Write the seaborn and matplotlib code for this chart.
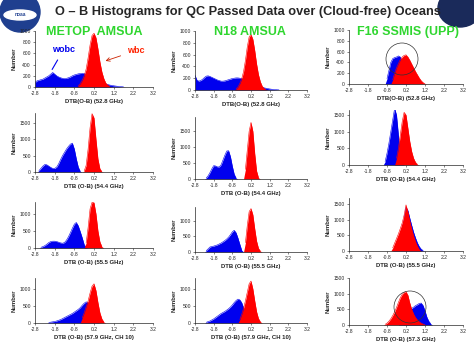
import numpy as np
import seaborn as sns
import matplotlib.pyplot as plt
from matplotlib.patches import Ellipse

# common bin centres of the O-B histograms
x_grid = np.round(np.arange(-2.8, 3.2001, 0.1), 1)

# each series: (first bin centre, counts per 0.1 K bin)
metop_528_wobc = (-2.8, [80, 110, 120, 130, 140, 160, 180, 200, 230, 260, 230, 200, 180, 165, 155, 150,
                         155, 165, 180, 200, 215, 225, 235, 240, 245, 240, 230, 215, 200, 180, 160, 140,
                         120, 100, 85, 70, 55, 45, 35, 28, 22, 17, 12, 8, 5, 3, 0])
metop_528_wbc = (-0.7, [0, 20, 60, 120, 200, 320, 520, 750, 920, 960, 880, 680, 450, 270, 150, 70, 30, 10, 0])
n18_528_wobc = (-2.8, [250, 170, 150, 160, 180, 210, 235, 240, 230, 215, 200, 185, 170, 160, 150, 150,
                       155, 165, 175, 185, 195, 200, 205, 205, 200, 195, 185, 170, 155, 140, 125, 110,
                       95, 80, 68, 56, 46, 37, 30, 24, 18, 13, 9, 6, 4, 2, 0])
n18_528_wbc = (-0.7, [0, 15, 50, 110, 190, 310, 500, 730, 900, 940, 860, 670, 440, 260, 140, 65, 25, 8, 0])
f16_528_wobc = (-0.9, [0, 100, 250, 400, 470, 490, 500, 520, 500, 420, 250, 100, 20, 0])
f16_528_wbc = (-0.6, [0, 80, 200, 300, 380, 450, 500, 530, 540, 500, 440, 370, 300, 230, 170, 110, 60, 25, 5, 0])

metop_544_wobc = (-2.7, [0, 40, 110, 180, 230, 220, 180, 140, 110, 110, 150, 250, 380, 500, 600, 700,
                         780, 850, 880, 700, 400, 150, 20, 0])
metop_544_wbc = (-0.4, [0, 30, 200, 700, 1350, 1780, 1650, 1000, 400, 100, 10, 0])
n18_544_wobc = (-2.3, [0, 30, 100, 200, 320, 420, 410, 380, 380, 450, 600, 750, 880, 890, 700, 400, 150, 30, 0])
n18_544_wbc = (-0.2, [0, 300, 900, 1500, 1780, 1500, 800, 250, 40, 0])
f16_544_wobc = (-1.0, [0, 100, 350, 650, 1000, 1350, 1700, 1500, 900, 300, 50, 0])
f16_544_wbc = (-0.4, [0, 200, 500, 900, 1300, 1580, 1500, 1100, 700, 400, 200, 80, 20, 0])

metop_555_wobc = (-2.6, [0, 20, 40, 70, 110, 160, 190, 200, 200, 190, 170, 150, 140, 160, 230, 330,
                         450, 580, 700, 750, 650, 480, 300, 100, 10, 0])
metop_555_wbc = (-0.3, [0, 150, 600, 1150, 1340, 1330, 1000, 500, 180, 40, 0])
n18_555_wobc = (-2.3, [0, 40, 100, 160, 180, 190, 210, 230, 260, 290, 330, 370, 420, 480, 560, 650,
                       700, 620, 450, 250, 60, 0])
n18_555_wbc = (-0.2, [0, 300, 850, 1300, 1400, 1200, 750, 350, 120, 30, 0])
f16_555_wobc = (-0.5, [0, 100, 250, 400, 550, 750, 1000, 1400, 1300, 1050, 820, 600, 420, 260, 140, 60, 15, 0])
f16_555_wbc = (-0.6, [0, 100, 250, 400, 550, 720, 900, 1150, 1480, 1250, 950, 700, 480, 300, 150, 50, 0])

metop_579_wobc = (-2.2, [0, 15, 25, 35, 45, 60, 80, 100, 130, 160, 190, 220, 250, 280, 320, 360,
                         400, 450, 520, 580, 620, 600, 500, 350, 200, 80, 20, 0])
metop_579_wbc = (-0.5, [0, 150, 300, 480, 650, 880, 1080, 1150, 950, 600, 300, 120, 30, 0])
n18_579_wobc = (-2.3, [0, 20, 40, 60, 90, 120, 160, 200, 240, 280, 310, 340, 380, 420, 470, 530,
                       600, 660, 700, 680, 600, 450, 280, 130, 40, 0])
n18_579_wbc = (-0.5, [0, 100, 250, 430, 650, 900, 1150, 1230, 1000, 650, 330, 130, 40, 0])
f16_573_wobc = (-0.2, [0, 50, 120, 200, 300, 400, 480, 530, 570, 620, 650, 690, 700, 620, 450, 250, 120, 40, 0])
f16_573_wbc = (-1.0, [0, 20, 60, 120, 200, 300, 420, 560, 720, 870, 980, 1040, 1060, 950, 700, 500,
                      350, 240, 160, 100, 60, 30, 10, 0])

col_titles = ["METOP  AMSUA", "N18 AMSUA", "F16 SSMIS (UPP)"]
x_ticks = [-2.8, -1.8, -0.8, 0.2, 1.2, 2.2, 3.2]
x_labels = [
    ["DTB(O-B) (52.8 GHz)", "DTB (O-B) (54.4 GHz)", "DTB (O-B) (55.5 GHz)", "DTB (O-B) (57.9 GHz, CH 10)"],
    ["DTB(O-B) (52.8 GHz)", "DTB (O-B) (54.4 GHz)", "DTB (O-B) (55.5 GHz)", "DTB (O-B) (57.9 GHz, CH 10)"],
    ["DTB(O-B) (52.8 GHz)", "DTB (O-B) (54.4 GHz)", "DTB (O-B) (55.5 GHz)", "DTB (O-B) (57.3 GHz)"],
]
panels = [
    [(metop_528_wobc, metop_528_wbc), (metop_544_wobc, metop_544_wbc),
     (metop_555_wobc, metop_555_wbc), (metop_579_wobc, metop_579_wbc)],
    [(n18_528_wobc, n18_528_wbc), (n18_544_wobc, n18_544_wbc),
     (n18_555_wobc, n18_555_wbc), (n18_579_wobc, n18_579_wbc)],
    [(f16_528_wobc, f16_528_wbc), (f16_544_wobc, f16_544_wbc),
     (f16_555_wobc, f16_555_wbc), (f16_573_wobc, f16_573_wbc)],
]
y_max = [[1000, 1800, 1350, 1320], [1000, 1950, 1450, 1320], [1000, 1650, 1700, 1500]]

# axes boxes in pixels: (left, right) per column, (top, bottom) per column/row
col_x = [(35, 153), (195, 307), (349, 463)]
row_y = [[(31, 87), (113, 172), (202, 248), (278, 323)],
         [(31, 90), (117, 179), (207, 252), (278, 323)],
         [(30, 84), (110, 165), (198, 251), (278, 325)]]
title_cx = [94, 250, 408]

W, H = 474, 355


def full(series):
    x0, vals = series
    y = np.zeros(len(x_grid))
    i0 = int(round((x0 + 2.8) * 10))
    n = min(len(vals), len(x_grid) - i0)
    y[i0:i0 + n] = vals[:n]
    return y


sns.set_style("ticks")
plt.rcParams['font.family'] = ['Liberation Sans', 'DejaVu Sans']
fig = plt.figure(figsize=(W / 100, H / 100), dpi=100)

axes = {}
for c in range(3):
    for r in range(4):
        l, rgt = col_x[c]
        t, b = row_y[c][r]
        ax = fig.add_axes([l / W, 1 - b / H, (rgt - l) / W, (b - t) / H])
        axes[(c, r)] = ax
        for k, (series, color) in enumerate(zip(panels[c][r], ["#0000ee", "#ff0000"])):
            y = full(series)
            ax.fill_between(x_grid, 0, y, color=color, linewidth=0, zorder=1 + 2 * k)
            # outline only where there are counts
            y_edge = np.where(y > 0, y, np.nan)
            sns.lineplot(x=x_grid, y=y_edge, ax=ax, color=color, linewidth=0.4, zorder=2 + 2 * k)
        ax.set_xlim(-2.8, 3.2)
        ax.set_ylim(0, y_max[c][r])
        ax.set_xticks(x_ticks)
        ax.set_xticklabels([f"{v:.1f}" for v in x_ticks])
        if r == 0:
            ax.set_yticks([0, 200, 400, 600, 800, 1000])
        else:
            ax.set_yticks([v for v in [0, 500, 1000, 1500] if v <= y_max[c][r]])
        ax.tick_params(labelsize=3.6, length=1.5, width=0.4, pad=1.5)
        for s in ["left", "bottom"]:
            ax.spines[s].set_linewidth(0.5)
            ax.spines[s].set_zorder(6)
        sns.despine(ax=ax)
        ax.set_xlabel(x_labels[c][r], fontsize=4.3, fontweight="bold", labelpad=2)
        ax.set_ylabel("Number", fontsize=4.3, fontweight="bold", labelpad=2)

fig.text(248 / W, 1 - 12 / H, "O \u2013 B Histograms for QC Passed Data over (Cloud-free) Oceans",
         ha="center", va="center", fontsize=9.2, fontweight="bold")
for c, title in enumerate(col_titles):
    fig.text(title_cx[c] / W, 1 - 32 / H, title, ha="center", va="center", fontsize=9,
             fontweight="bold", color="#2fd62f")

# logos (simplified)
fig.add_artist(Ellipse((20 / W, 1 - 12 / H), 40 / W, 40 / H, color="#1f3f8f", zorder=0))
fig.add_artist(Ellipse((20 / W, 1 - 15 / H), 32 / W, 10 / H, color="white", zorder=0))
fig.text(20 / W, 1 - 15 / H, "noaa", ha="center", va="center", fontsize=3.5, color="#1f3f8f",
         fontweight="bold")
fig.add_artist(Ellipse((460 / W, 1 - 8 / H), 44 / W, 38 / H, color="#1a2a5a", zorder=0))

# annotations in the METOP 52.8 GHz panel
ax = axes[(0, 0)]
ax.annotate("wobc", xy=(-2.0, 270), xytext=(-1.35, 620), fontsize=6.5, fontweight="bold",
            color="#0000ee", ha="center",
            arrowprops=dict(arrowstyle="-", color="#0000ee", lw=0.8))
ax.annotate("wbc", xy=(0.65, 450), xytext=(2.3, 600), fontsize=6.5, fontweight="bold",
            color="#ff2200", ha="center",
            arrowprops=dict(arrowstyle="->", color="#cc2200", lw=0.6))

# circles on the F16 panels
for cx, cy in [(402, 59), (410, 307)]:
    fig.add_artist(Ellipse((cx / W, 1 - cy / H), 32 / W, 32 / H, fill=False,
                           edgecolor="#333333", linewidth=0.5, zorder=10))

fig.savefig("out.png", dpi=100)
